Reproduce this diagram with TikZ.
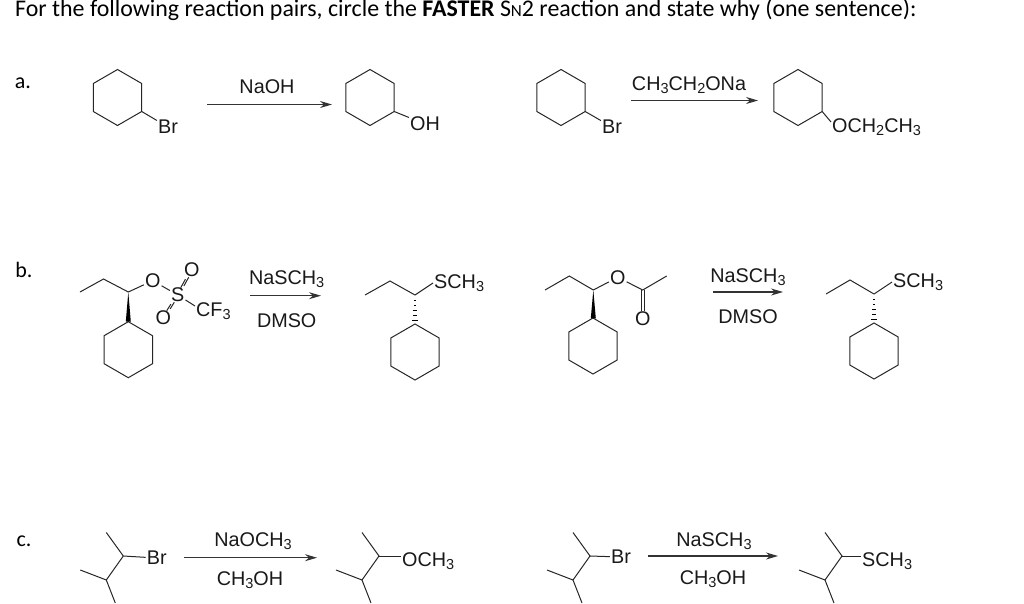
\documentclass[tikz,border=0pt]{standalone}
\usepackage{fontspec}
\setmainfont{Liberation Sans}
\newfontfamily\titlefont{Carlito}
\usetikzlibrary{arrows.meta}
\tikzset{
	bond/.style = {line width = 1pt, black!85},
	rxn/.style = {line width = 1.1pt, black!80, -{Stealth[length = 12pt, width = 7pt]}},
	atom/.style = {inner sep = 1pt, font = \fontsize{19.8}{22}\selectfont, text = black!90},
	reagent/.style = {inner sep = 0pt, font = \fontsize{19.8}{22}\selectfont, text = black!90},
	tag/.style = {inner sep = 0pt, font = \titlefont\fontsize{22}{26}\selectfont},
	headline/.style = {inner sep = 0pt, font = \titlefont\fontsize{23.9}{28}\selectfont}
}
% subscript a little larger than the default one
\newcommand{\low}[1]{\raisebox{-0.28ex}{\fontsize{14.5}{16}\selectfont #1}}
% ring by its centre
\newcommand{\hexring}[2]{\draw[bond] (#1,#2-28) -- (#1+24.2,#2-14) -- (#1+24.2,#2+14) -- (#1,#2+28) -- (#1-24.2,#2+14) -- (#1-24.2,#2-14) -- cycle;}
% hashed bond going down
\newcommand{\hashdown}[2]{\foreach \k in {0,...,4} {\draw[line width = 1pt] (#1-0.6-\k*0.55,#2+5+\k*5) -- (#1+0.6+\k*0.55,#2+5+\k*5);}}
% branched skeleton of row c
\newcommand{\branched}[1]{\draw[bond] (#1-17,532.5) -- (#1,556) -- (#1-17,580) -- (#1-43,570); \draw[bond] (#1-17,580) -- (#1-8,603);}
\begin{document}
\begin{tikzpicture}[x = 1pt, y = -1pt]
	\useasboundingbox (0, 0) rectangle (1024, 603);
	\node[headline, anchor = base west] (title) at (15, 16) {For the following reaction pairs, circle the \textbf{FASTER} S{\fontsize{17}{18}\selectfont N}2 reaction and state why (one sentence):};
	\node[tag] (taga) at (23, 83) {a.};
	\node[tag] (tagb) at (24, 270) {b.};
	\node[tag] (tagc) at (24, 541) {c.};
	%%%%%%%%% row a
	\hexring{117.5}{97.5}
	\node[atom] (bra) at (168, 127) {Br};
	\draw[bond] (141.7, 111.5) -- (bra);
	\coordinate (a1s) at (207, 104.5);
	\coordinate (a1e) at (332, 104.5);
	\draw[rxn] (a1s) -- (a1e);
	\node[reagent] (naoh) at (267, 87) {NaOH};
	\hexring{370}{97.5}
	\node[atom] (oha) at (425, 124) {OH};
	\draw[bond] (394.2, 111.5) -- (oha);
	\hexring{561}{97.5}
	\node[atom] (brb) at (612, 127) {Br};
	\draw[bond] (585.2, 111.5) -- (brb);
	\coordinate (a2s) at (631, 100.5);
	\coordinate (a2e) at (758, 100.5);
	\draw[rxn] (a2s) -- (a2e);
	\node[reagent] (etona) at (689, 85) {CH\low{3}CH\low{2}ONa};
	\hexring{798}{97.5}
	\node[atom, anchor = west] (oet) at (831, 127) {OCH\low{2}CH\low{3}};
	\draw[bond] (822.2, 111.5) -- ([yshift = 5pt]oet.west);
	%%%%%%%%% row b
	\hexring{128.3}{349.7}
	\draw[bond] (80, 292) -- (103.5, 279) -- (128.3, 292);
	\fill[black] (128.3, 292) -- (125.8, 321.7) -- (130.8, 321.7) -- cycle;
	\node[atom] (ot) at (152.7, 280.7) {O};
	\node[atom] (st) at (177.7, 295) {S};
	\node[atom] (otu) at (191.7, 270) {O};
	\node[atom] (otd) at (163.3, 318) {O};
	\node[atom, anchor = west] (cf) at (195, 311) {CF\low{3}};
	\draw[bond] (128.3, 292) -- (ot);
	\draw[bond] (ot) -- (st);
	\draw[bond] (st) -- ([yshift = 5pt]cf.west);
	\draw[bond, transform canvas = {shift = {(1.6pt, 0.9pt)}}] (st) -- (otu);
	\draw[bond, transform canvas = {shift = {(-1.6pt, -0.9pt)}}] (st) -- (otu);
	\draw[bond, transform canvas = {shift = {(1.7pt, 0.9pt)}}] (st) -- (otd);
	\draw[bond, transform canvas = {shift = {(-1.7pt, -0.9pt)}}] (st) -- (otd);
	\coordinate (b1s) at (250, 295.7);
	\coordinate (b1e) at (321, 295.7);
	\draw[rxn] (b1s) -- (b1e);
	\node[reagent] (msa) at (286.7, 279) {NaSCH\low{3}};
	\node[reagent] (dma) at (286.7, 321) {DMSO};
	\hexring{415}{352}
	\draw[bond] (365, 295) -- (390, 281) -- (415, 295);
	\hashdown{415}{295}
	\node[atom, anchor = west] (sma) at (433, 283) {SCH\low{3}};
	\draw[bond] (415, 295) -- (sma.west);
	\hexring{593}{346}
	\draw[bond] (545, 290) -- (569.3, 276) -- (593.3, 290);
	\fill[black] (593.3, 290) -- (590.8, 318.3) -- (595.8, 318.3) -- cycle;
	\node[atom] (oac) at (617.7, 277.3) {O};
	\node[atom] (oca) at (642.7, 319) {O};
	\coordinate (cac) at (642.7, 290);
	\draw[bond] (593.3, 290) -- (oac);
	\draw[bond] (oac) -- (cac) -- (666.7, 276);
	\draw[bond] (641, 290) -- (641, 310.5);
	\draw[bond] (644.6, 290) -- (644.6, 310.5);
	\coordinate (b2s) at (713, 292);
	\coordinate (b2e) at (783, 292);
	\draw[rxn] (b2s) -- (b2e);
	\node[reagent] (msb) at (748, 277) {NaSCH\low{3}};
	\node[reagent] (dmb) at (748, 317) {DMSO};
	\hexring{874}{351}
	\draw[bond] (826, 294) -- (850, 280) -- (874, 294);
	\hashdown{874}{294}
	\node[atom, anchor = west] (smb) at (892, 282) {SCH\low{3}};
	\draw[bond] (874, 294) -- (smb.west);
	%%%%%%%%% row c
	\branched{123.3}
	\node[atom] (brc) at (156.7, 558) {Br};
	\draw[bond] (123.3, 556) -- (brc);
	\coordinate (c1s) at (184, 557.7);
	\coordinate (c1e) at (317, 557.7);
	\draw[rxn] (c1s) -- (c1e);
	\node[reagent] (nao) at (253, 541) {NaOCH\low{3}};
	\node[reagent] (mea) at (250, 580) {CH\low{3}OH};
	\branched{379}
	\node[atom, anchor = west] (ome) at (401, 561) {OCH\low{3}};
	\draw[bond] (379, 556) -- (ome.west |- 379, 556);
	\branched{590}
	\node[atom] (brd) at (621, 557) {Br};
	\draw[bond] (590, 556) -- (brd);
	\coordinate (c2s) at (648, 556);
	\coordinate (c2e) at (778, 556);
	\draw[rxn] (c2s) -- (c2e);
	\node[reagent] (msc) at (714, 541) {NaSCH\low{3}};
	\node[reagent] (meb) at (713, 579) {CH\low{3}OH};
	\branched{842}
	\node[atom, anchor = west] (smc) at (861, 561) {SCH\low{3}};
	\draw[bond] (842, 556) -- (smc.west |- 842, 556);
\end{tikzpicture}
\end{document}
